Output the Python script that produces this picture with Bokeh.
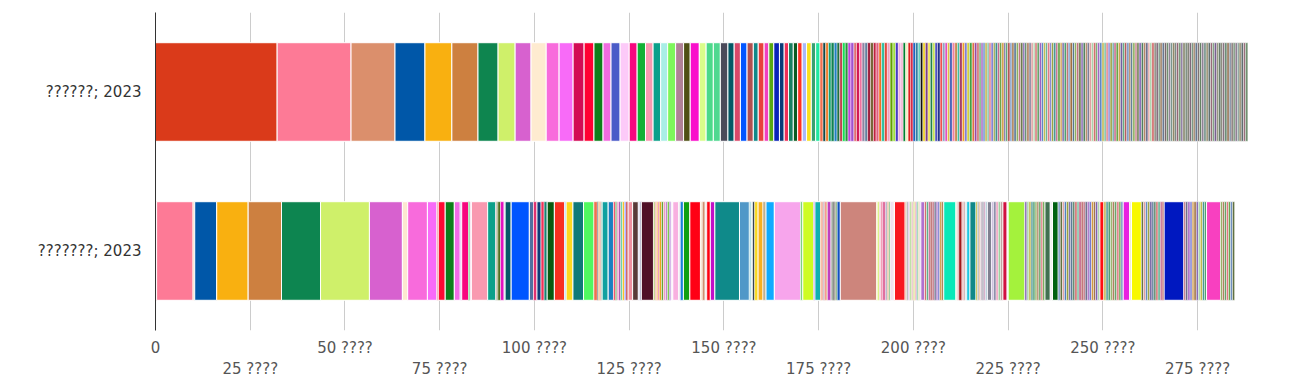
from bokeh.plotting import figure
from bokeh.models import FactorRange, Range1d, LinearAxis, FixedTicker, ColumnDataSource
from bokeh.embed import file_html
from bokeh.resources import INLINE

# ---------------- data ----------------
categories = ["??????; 2023", "???????; 2023"]

major_ticks = [0, 50, 100, 150, 200, 250]
major_labels = ["0", "50 ????", "100 ????", "150 ????", "200 ????", "250 ????"]
minor_ticks = [25, 75, 125, 175, 225, 275]
minor_labels = ["25 ????", "75 ????", "125 ????", "175 ????", "225 ????", "275 ????"]

top_values = [
    32.1, 19.5, 11.6, 7.9, 7.1, 6.9, 5.3, 4.5, 4.2, 4.0,
    3.4, 3.7, 2.9, 2.6, 2.4, 2.1, 2.4, 2.4, 2.1, 2.2,
    2.0, 2.0, 1.85, 2.1, 2.1, 1.75, 2.4, 1.8, 1.9, 1.85,
    2.0, 1.65, 1.65, 1.75, 1.65, 1.3, 1.55, 1.25, 1.3, 1.5,
    1.25, 1.15, 1.25, 1.15, 1.2, 1.15, 1.25, 1.15, 1.15,
    0.8, 0.7, 0.75, 0.7, 0.8, 0.75, 0.7, 0.75, 0.7, 0.75,
    0.75, 0.8, 0.7, 0.75, 0.7, 0.75, 0.7, 0.8, 0.75, 0.7,
    0.75, 0.7, 0.8, 0.7, 0.75, 0.75, 0.7, 0.7,
    0.7, 0.6, 0.65, 0.65, 0.7, 0.6, 0.65, 0.7, 0.6, 0.65,
    0.65, 0.7, 0.6, 0.65, 0.6, 0.7, 0.65, 0.6, 0.7, 0.65,
    0.6, 0.65, 0.7, 0.65, 0.6, 0.7, 0.65, 0.6, 0.65, 0.7,
    0.65, 0.6,
    0.6, 0.5, 0.55, 0.5, 0.6, 0.45, 0.55, 0.6, 0.5, 0.65,
    0.5, 0.55, 0.6, 0.45, 0.5, 0.65, 0.5, 0.55, 0.6, 0.6,
    0.55, 0.6, 0.5, 0.5, 0.65, 0.5, 0.6, 0.45, 0.55, 0.6,
    0.6, 0.5, 0.55, 0.5, 0.6, 0.45, 0.55, 0.6, 0.5, 0.65,
    0.5, 0.55, 0.6, 0.45, 0.5, 0.65, 0.5, 0.55, 0.6, 0.6,
    0.55, 0.6, 0.5, 0.5, 0.65, 0.5, 0.6, 0.45, 0.55, 0.6,
    0.6, 0.5, 0.55, 0.5, 0.6, 0.45, 0.55, 0.6, 0.5, 0.65,
    0.5, 0.55, 0.6, 0.45, 0.5, 0.65, 0.5, 0.55, 0.6, 0.6,
    0.55, 0.6, 0.5, 0.5, 0.65, 0.5, 0.6, 0.45, 0.55, 0.6,
    0.6, 0.5, 0.55, 0.5, 0.6, 0.45, 0.55, 0.6, 0.5, 0.65,
    0.5, 0.55, 0.6, 0.45, 0.5, 0.65, 0.5, 0.55, 0.6, 0.6,
    0.55, 0.6, 0.5, 0.5, 0.65, 0.5, 0.6, 0.45, 0.55, 0.6,
    0.6, 0.5, 0.55, 0.5, 0.6, 0.45, 0.55, 0.6, 0.5, 0.65,
]

bottom_values = [
    0.3, 9.6, 0.45, 5.8, 8.3, 8.8, 10.3, 12.9, 8.7, 1.4,
    5.2, 2.5, 0.35, 1.85, 2.4, 1.55, 0.4, 1.8, 0.35, 0.4,
    4.3, 2.1, 0.3, 0.3, 0.7, 0.9, 0.3, 1.6, 4.8, 1.1,
    0.9, 1.1, 0.8, 0.8, 1.9, 2.7, 0.4, 1.8, 2.8, 2.75,
    0.9, 0.3, 0.3, 0.3, 0.35, 1.6, 1.4,
    0.5, 0.4, 0.55, 0.45, 0.5, 0.5, 0.4, 0.55,
    1.2, 1.5, 0.4, 0.4, 3.2, 0.5, 0.35, 0.35, 0.35, 0.6,
    0.5, 0.55, 0.5, 0.5, 0.4, 0.5, 1.5, 0.5, 0.8, 1.7,
    2.8, 0.5, 0.7, 0.5, 0.9, 1.2, 6.5, 2.6, 0.5, 0.4,
    0.5, 0.9, 1.3, 0.8, 2.2, 6.9, 0.6, 2.9, 0.3, 1.5,
    0.35, 0.4, 0.3, 0.4, 0.35, 0.9, 0.35, 0.3, 0.4, 0.3, 0.35,
    0.8, 9.6, 0.3, 0.4, 0.4, 0.4, 0.9, 0.4, 0.4, 0.4,
    0.8, 0.3, 2.8, 0.4, 0.4, 0.4, 0.4,
    0.3, 0.35, 0.3, 0.35, 0.3, 0.35, 0.3, 0.3, 1.0,
    0.5, 0.55, 0.45, 0.5, 0.55, 0.5, 0.45, 0.5, 0.55, 0.5,
    3.2, 0.4, 0.4, 0.8, 0.4, 0.4, 0.5, 0.8, 1.6,
    0.4, 0.4, 0.4, 0.45, 0.45, 0.45, 0.45, 1.1,
    0.6, 0.6, 0.6, 0.6, 0.6, 1.1, 0.3, 4.4,
    0.55, 0.5, 0.6, 0.5, 0.55, 0.5, 0.5, 0.55, 0.5, 0.55,
    1.4, 0.6, 1.5,
    0.55, 0.6, 0.5, 0.55, 0.6, 0.5, 0.55, 0.55, 0.6, 0.5,
    0.6, 0.5, 0.55, 0.55, 0.5, 0.6, 0.55, 0.5, 0.6, 0.55,
    1.05,
    0.6, 0.55, 0.6, 0.5, 0.6, 0.55, 0.6, 0.5, 0.6,
    1.7, 0.5, 2.6,
    0.55, 0.6, 0.5, 0.55, 0.6, 0.5, 0.55, 0.55, 0.6, 0.5, 0.5,
    5.2,
    0.5, 0.55, 0.6, 0.55, 0.5, 0.6, 0.55, 0.5, 0.6, 0.5, 0.55,
    3.7,
    0.5, 0.55, 0.5, 0.55, 0.5, 0.55, 0.55,
]

# ---------------- colours (styles) ----------------
top_major_colors = [
    "#da3a1a", "#fd7a96", "#db8f6c", "#0057a8", "#f9b010", "#cd8040", "#0e854f", "#cff06a", "#d761cf", "#feebd0",
    "#f86bdc", "#f86bf8", "#d20c55", "#ff0033", "#0e7f1a", "#f16ce0", "#4b5bc8", "#fccaf8", "#f7077f", "#13b135",
    "#f99ab0", "#0ca08a", "#a9eee6", "#7ef65b", "#b08196", "#4f4f14", "#f90fcb", "#dafd8a", "#4cd98a", "#50d890",
    "#4b4a5a", "#045866", "#d9486a", "#0055ff", "#b05050", "#108888", "#e8403c", "#f040c0", "#58a810", "#0a22b8",
    "#0a3a78", "#f03058", "#188060", "#0a5a20", "#ff3020", "#a8b8f8", "#f8e020", "#38a070", "#20e8a0",
]
mid_palette = [
    "#f07050", "#104848", "#f08030", "#10a070", "#108050", "#2080c0", "#207040", "#c04050", "#10e050", "#309040",
    "#c040e0", "#a050d0", "#e07070", "#d01050", "#f070a0", "#9080a0", "#6080a0", "#a02040", "#706030", "#c02040",
    "#e06080", "#f07020", "#30c0a0", "#e04030", "#f0a0c0", "#60a000", "#a0e040", "#4030c0", "#f0b0e0", "#f0b0d0",
    "#008030", "#f0f0c0", "#e02020", "#d01030", "#2060c0", "#3080a0", "#60d0c0", "#101010", "#f0d020", "#804080",
    "#f0e040", "#208050", "#c0e040", "#5050c0", "#102080", "#f04040", "#90a0c0", "#e050c0", "#e0c040", "#3050b0",
    "#f080a0", "#c08040", "#40c0a0", "#a03060", "#f0a020", "#7070d0", "#d0d040", "#40a040", "#e07040", "#9040a0",
]
tail_palette = [
    "#d06868", "#60a060", "#a060c0", "#5080c0", "#c0b850", "#60b090", "#e07880", "#7878d0", "#98a040", "#409090",
    "#c05880", "#60a040", "#d09840", "#7060a0", "#50a070", "#b05050", "#7090c0", "#a07040", "#507090", "#90b060",
    "#c07080", "#607040", "#8060b0", "#508060", "#b08060", "#606080", "#e0a0a0", "#a0d0a0",
]
end_palette = [
    "#707060", "#806878", "#5c8068", "#907050", "#687890", "#7a6a6a", "#608060", "#8a7a90", "#6a8a80", "#8a8060",
    "#607070", "#906070", "#709070", "#786090", "#8a8a70", "#5a7060",
]
bottom_colors = [
    "#e8603c", "#fd7a96", "#fde0c8", "#0057a8", "#f9b010", "#cd8040", "#0d8550", "#cff06a", "#d761cf", "#fde8d0",
    "#f86bdc", "#f86bf8", "#e08080", "#ff0a33", "#0e7f1a", "#f16ce4", "#e0c0f8", "#f7077f", "#10b030", "#f8e0f0",
    "#f999b0", "#0ca08a", "#909090", "#6a7a2a", "#507020", "#e010c0", "#c0e0e0", "#045866", "#0055ff", "#5070a0",
    "#e03070", "#103a78", "#f03058", "#188070", "#0a5a10", "#f83020", "#a0c8f0", "#fcd820", "#0f7a78", "#50f860",
    "#f07050", "#203050", "#f8b020", "#ff5050", "#80c0a0", "#10a0a0", "#1a80c0",
    "#f04060", "#40a040", "#f0a0d0", "#a030a0", "#60d0a0", "#f8c020", "#8080ff", "#c04040",
    "#f090a0", "#5a3a38", "#e0d8f0", "#a0a0c0", "#501027", "#c0d080", "#f08080", "#f8b040", "#e870a0", "#f0a020",
    "#60a030", "#f0a0c0", "#c080d0", "#70c040", "#a060d0", "#f8f0f8", "#f8b0e0", "#f0e8f0", "#1a80d8", "#10a010",
    "#ff0015", "#f8e8d0", "#d09070", "#f8f0f0", "#ff0010", "#c010c8", "#0f8a8a", "#5098c8", "#a0d8e0", "#e0f0f0",
    "#203040", "#f8d820", "#f8b020", "#c0b090", "#10aaff", "#f7a5ec", "#80d080", "#cefc22", "#9020d0", "#10b0b0",
    "#f08040", "#f0a0a0", "#808080", "#f06060", "#e0a060", "#c040c0", "#a0a0a0", "#406040", "#202020", "#808060", "#60a060",
    "#1050c0", "#cd857c", "#f0f0a0", "#d0f060", "#f0c0d0", "#f080a0", "#e070a0", "#a0a0c0", "#f0a070", "#80c080",
    "#f0e0f0", "#f8d0d0", "#f81820", "#f0c0a0", "#a0a0a0", "#e0c0f0", "#a0d080",
    "#d0d0a0", "#e090b0", "#c0f020", "#f0a0a0", "#a0a0d0", "#60c080", "#f0d070", "#c0a0e0", "#b070d0",
    None, None, None, None, None, None, None, None, None, None,
    "#0ae8b8", "#f0f0e0", "#e0a0a0", "#a01818", "#f0c0c0", "#c08080", "#e0f0f0", "#20c8e0", "#108888",
    "#c0c040", "#a0a0a0", "#f0c0a0", "#c0b0c0", "#9090a0", "#d0a0c0", "#a0c0d0", "#808090",
    "#d0c0e0", "#8080a0", "#f0a0c0", "#a0d0a0", "#c0a0a0", "#d01040", "#f0f0f0", "#a4f23c",
    None, None, None, None, None, None, None, None, None, None,
    "#407050", "#f0f0f0", "#006010",
    None, None, None, None, None, None, None, None, None, None,
    None, None, None, None, None, None, None, None, None, None,
    "#ff1010",
    None, None, None, None, None, None, None, None, None,
    "#e820e0", "#f0f0d0", "#f8f800",
    None, None, None, None, None, None, None, None, None, None, None,
    "#0018c0",
    None, None, None, None, None, None, None, None, None, None, None,
    "#f840c0",
    None, None, None, None, None, None, None,
]

n_end = 45
top_colors = list(top_major_colors) + list(mid_palette)
k = 0
while len(top_colors) < len(top_values) - n_end:
    top_colors.append(tail_palette[k % len(tail_palette)])
    k += 1
k = 0
while len(top_colors) < len(top_values):
    top_colors.append(end_palette[k % len(end_palette)])
    k += 1
top_colors = top_colors[:len(top_values)]

bc = []
k = 0
for i in range(len(bottom_values)):
    c = bottom_colors[i] if i < len(bottom_colors) else None
    if c is None:
        c = tail_palette[(k * 5) % len(tail_palette)]
        k += 1
    bc.append(c)

ys, lefts, rights, cols, widths = [], [], [], [], []
for cat, vals, cl in ((categories[0], top_values, top_colors), (categories[1], bottom_values, bc)):
    acc = 0.0
    for v, c in zip(vals, cl):
        ys.append(cat)
        lefts.append(acc)
        acc += v
        rights.append(acc)
        cols.append(c)
        widths.append(1.0 if v >= 1.0 else 0.45)

src = ColumnDataSource(dict(y=ys, left=lefts, right=rights, color=cols, lw=widths))

FONT = "DejaVu Sans"

p = figure(
    width=1290, height=380,
    y_range=FactorRange(factors=[categories[1], categories[0]]),
    x_range=Range1d(0, 299.5),
    output_backend="svg", toolbar_location=None,
    min_border_left=155, min_border_top=12, min_border_right=0, min_border_bottom=50,
)
p.outline_line_color = None
p.background_fill_color = "white"

p.hbar(y="y", left="left", right="right", height=0.62, fill_color="color",
       line_color="white", line_width="lw", source=src)

# grid
p.ygrid.grid_line_color = None
p.xgrid.ticker = FixedTicker(ticks=major_ticks + minor_ticks + [300])
p.xgrid.grid_line_color = "#cccccc"
p.xgrid.grid_line_width = 1
p.xgrid.level = "underlay"

# y axis
ya = p.yaxis[0]
ya.axis_line_color = "#333333"
ya.axis_line_width = 1
ya.major_tick_line_color = None
ya.minor_tick_line_color = None
ya.major_tick_out = 0
ya.major_tick_in = 0
ya.major_label_standoff = 14
ya.major_label_text_font = FONT
ya.major_label_text_font_size = "15px"
ya.major_label_text_color = "#333333"

# x axes (two rows of labels)
xa = p.xaxis[0]
xa.ticker = FixedTicker(ticks=major_ticks)
xa.major_label_overrides = {t: l for t, l in zip(major_ticks, major_labels)}
xa2 = LinearAxis(ticker=FixedTicker(ticks=minor_ticks))
xa2.major_label_overrides = {t: l for t, l in zip(minor_ticks, minor_labels)}
p.add_layout(xa2, "below")
for a, so in ((xa, 8), (xa2, 0)):
    a.axis_line_color = None
    a.major_tick_line_color = None
    a.minor_tick_line_color = None
    a.major_tick_out = 0
    a.major_tick_in = 0
    a.major_label_standoff = so
    a.major_label_text_font = FONT
    a.major_label_text_font_size = "15px"
    a.major_label_text_color = "#555555"

open("out.html", "w").write(file_html(p, INLINE))
